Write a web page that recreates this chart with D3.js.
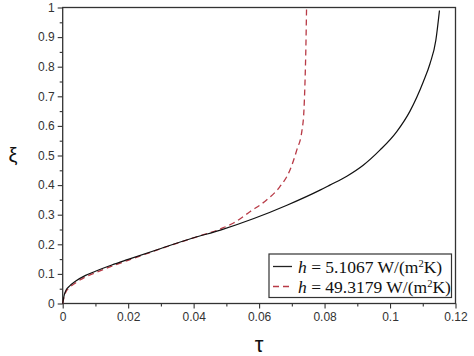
<!DOCTYPE html>
<html><head><meta charset="utf-8">
<script src="https://cdn.jsdelivr.net/npm/d3@7"></script>
<style>body{margin:0;background:#fff}svg{display:block}</style>
</head><body>
<svg id="c" width="474" height="356"></svg>
<script>
const tauBlack = [0, 0.0005, 0.001, 0.002, 0.004, 0.007, 0.01, 0.015, 0.02, 0.03, 0.04, 0.0482, 0.0584, 0.0685, 0.0786, 0.0816, 0.0868, 0.0918, 0.0969, 0.102, 0.1061, 0.1102, 0.1122, 0.1140, 0.1151];
const xiBlack  = [0, 0.03, 0.045, 0.058, 0.076, 0.095, 0.109, 0.13, 0.149, 0.186, 0.222, 0.248, 0.287, 0.332, 0.383, 0.400, 0.430, 0.467, 0.518, 0.580, 0.650, 0.75, 0.81, 0.89, 0.99];
const tauRed = [0, 0.0005, 0.001, 0.002, 0.004, 0.007, 0.01, 0.015, 0.02, 0.03, 0.04, 0.0482, 0.0522, 0.0572, 0.0622, 0.0663, 0.0694, 0.0715, 0.0731, 0.0737, 0.0740, 0.0743, 0.0745];
const xiRed  = [0, 0.025, 0.04, 0.053, 0.07, 0.09, 0.104, 0.126, 0.146, 0.185, 0.222, 0.252, 0.272, 0.31, 0.349, 0.394, 0.45, 0.518, 0.585, 0.653, 0.74, 0.87, 1.0];
const xTicks = [0, 0.02, 0.04, 0.06, 0.08, 0.1, 0.12];
const yTicks = [0, 0.1, 0.2, 0.3, 0.4, 0.5, 0.6, 0.7, 0.8, 0.9, 1];
const legendLabels = ["5.1067", "49.3179"];

const svg = d3.select("#c");
const x = d3.scaleLinear().domain([0, 0.12]).range([62.7, 455.5]);
const y = d3.scaleLinear().domain([0, 1]).range([303.5, 7.5]);
const axisCol = "#333";

// frame
svg.append("rect").attr("x", x(0)).attr("y", y(1)).attr("width", x(0.12) - x(0)).attr("height", y(0) - y(1))
  .attr("fill", "none").attr("stroke", axisCol).attr("stroke-width", 1.3);

// minor ticks
const xMinor = d3.range(0, 13).map(i => i * 0.01).filter((d, i) => i % 2 === 1);
const yMinor = d3.range(0, 20).map(i => i * 0.05).filter((d, i) => i % 2 === 1);

const gx = svg.append("g").attr("transform", `translate(0,${y(0)})`)
  .call(d3.axisBottom(x).tickValues(xTicks).tickSize(5).tickPadding(4).tickFormat(d => d3.format("")(+d.toFixed(2))));
const gxm = svg.append("g").attr("transform", `translate(0,${y(0)})`)
  .call(d3.axisBottom(x).tickValues(xMinor).tickSize(3).tickFormat(""));
const gy = svg.append("g").attr("transform", `translate(${x(0)},0)`)
  .call(d3.axisLeft(y).tickValues(yTicks).tickSize(5).tickPadding(3).tickFormat(d => d3.format("")(+d.toFixed(1))));
const gym = svg.append("g").attr("transform", `translate(${x(0)},0)`)
  .call(d3.axisLeft(y).tickValues(yMinor).tickSize(3).tickFormat(""));
[gx, gxm, gy, gym].forEach(g => {
  g.select(".domain").remove();
  g.selectAll("line").attr("stroke", axisCol).attr("stroke-width", 1.1);
  g.selectAll("text").attr("fill", "#333").style("font-family", "'Liberation Sans', Arial, sans-serif").style("font-size", "12px");
});

// curves
const line = d3.line().x(d => x(d[0])).y(d => y(d[1])).curve(d3.curveMonotoneX);
svg.append("path").datum(tauRed.map((t, i) => [t, xiRed[i]]))
  .attr("d", line).attr("fill", "none").attr("stroke", "#b83a46").attr("stroke-width", 1.3).attr("stroke-dasharray", "6,4");
svg.append("path").datum(tauBlack.map((t, i) => [t, xiBlack[i]]))
  .attr("d", line).attr("fill", "none").attr("stroke", "#111").attr("stroke-width", 1.2);

// legend
const lg = svg.append("g");
lg.append("rect").attr("x", 269).attr("y", 254).attr("width", 182.5).attr("height", 43.5)
  .attr("fill", "#fff").attr("stroke", axisCol).attr("stroke-width", 1.2);
const rows = [
  {label: legendLabels[0], col: "#222", dash: null, yy: 266.5},
  {label: legendLabels[1], col: "#b83a46", dash: "6,4", yy: 286.5}
];
rows.forEach(r => {
  lg.append("line").attr("x1", 273).attr("x2", 292).attr("y1", r.yy).attr("y2", r.yy)
    .attr("stroke", r.col).attr("stroke-width", 1.3).attr("stroke-dasharray", r.dash);
  const t = lg.append("text").attr("x", 298).attr("y", r.yy + 6)
    .style("font-family", "'Liberation Serif', 'Times New Roman', serif").style("font-size", "17.5px").attr("fill", "#111");
  t.append("tspan").attr("font-style", "italic").text("h");
  t.append("tspan").text(" = " + r.label + " W/(m");
  t.append("tspan").attr("font-size", "10.5px").attr("dy", -6).text("2");
  t.append("tspan").attr("dy", 6).text("K)");
});

// axis titles
svg.append("text").attr("x", 259).attr("y", 352).attr("text-anchor", "middle")
  .style("font-family", "'Liberation Sans', Arial, sans-serif").style("font-size", "22px").attr("fill", "#111").text("τ");
svg.append("text").attr("x", 13).attr("y", 162).attr("text-anchor", "middle")
  .style("font-family", "'Liberation Sans', Arial, sans-serif").style("font-size", "20px").attr("fill", "#111").text("ξ");
</script>
</body></html>
